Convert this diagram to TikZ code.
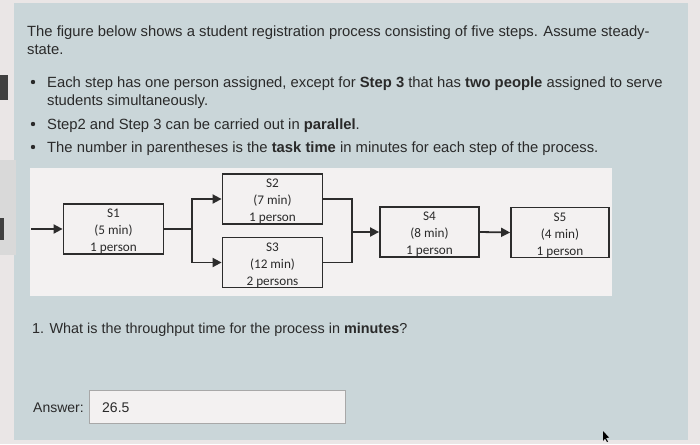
\documentclass[tikz,border=0pt]{standalone}
\usepackage{fontspec}
\setmainfont{Liberation Sans}
\newfontfamily\dg{Carlito}
\usetikzlibrary{arrows.meta}
\definecolor{frame}{HTML}{EAE6E6}
\definecolor{panel}{HTML}{CAD6D9}
\definecolor{figbg}{HTML}{F3F1F1}
\definecolor{ink}{HTML}{2A2A2A}
\definecolor{lineink}{HTML}{2C2C2C}
\definecolor{boxedge}{HTML}{A8A8A8}
\newcommand\tpstrut{\rule{0pt}{14pt}}
\tikzset{
  stepbox/.style={draw=lineink, line width=1.8pt, minimum width=100pt, minimum height=50pt,
    inner sep=0pt, align=center, text=ink, font=\dg\fontsize{13.2}{17}\selectfont},
  link/.style={draw=lineink, line width=1.8pt},
  arr/.style={link, -{Triangle[length=9pt,width=9pt]}},
  txt/.style={anchor=base west, inner sep=0pt, text=ink, font=\fontsize{14.8}{18}\selectfont},
}
\begin{document}
\begin{tikzpicture}[x=1pt,y=-1pt]
\useasboundingbox (0,0) rectangle (700,444);
\fill[frame] (0,0) rectangle (700,444);
\fill[panel] (14,3) rectangle (688,440);
% side artefacts of the photo
\fill[gray!30] (0,160) rectangle (16,255);
\fill[black!75] (0,75) rectangle (8,100);
\fill[black!75] (0,218) rectangle (4,240);
% text
\node[txt] (l1) at (27,37) {The figure below shows a student registration process consisting of five steps. Assume steady-};
\node[txt] (l2) at (27,55) {state.};
\fill[ink] (33,82) circle (2.2pt);
\fill[ink] (33,124) circle (2.2pt);
\fill[ink] (33,147) circle (2.2pt);
\node[txt] (l3) at (47,87) {Each step has one person assigned, except for \textbf{Step 3} that has \textbf{two people} assigned to serve};
\node[txt] (l4) at (47,105) {students simultaneously.};
\node[txt] (l5) at (47,129) {Step2 and Step 3 can be carried out in \textbf{parallel}.};
\node[txt] (l6) at (47,152) {The number in parentheses is the \textbf{task time} in minutes for each step of the process.};
% figure
\fill[figbg] (30,168) rectangle (612,296);
\node[stepbox] (s1) at (113.5,229) {\tpstrut S1\\(5 min)\\1 person};
\node[stepbox] (s2) at (272.5,199) {\tpstrut S2\\(7 min)\\1 person};
\node[stepbox] (s3) at (272.5,262.5) {\tpstrut S3\\(12 min)\\2 persons};
\node[stepbox, minimum width=99pt] (s4) at (429.5,232) {\tpstrut S4\\(8 min)\\1 person};
\node[stepbox, minimum width=98pt] (s5) at (560,232.5) {\tpstrut S5\\(4 min)\\1 person};
\coordinate (in) at (31,229);
\coordinate (j1) at (192,229);
\coordinate (j2) at (352,232);
\draw[arr] (in) -- (s1.west);
\draw[link] (s1.east) -- (j1);
\draw[arr] (j1) |- (s2.west);
\draw[arr] (j1) |- (s3.west);
\draw[link] (s2.east) -| (j2);
\draw[link] (s3.east) -| (j2);
\draw[arr] (j2) -- (s4.west);
\draw[arr] (s4.east) -- (s5.west);
% question
\node[txt, font=\fontsize{14.4}{18}\selectfont] (q) at (32,333) {1. What is the throughput time for the process in \textbf{minutes}?};
\node[txt, font=\fontsize{14}{17}\selectfont] (ans) at (33,412) {Answer:};
\node[draw=boxedge, line width=0.8pt, fill=figbg, minimum width=256pt, minimum height=33pt, anchor=north west, inner sep=0pt] (box) at (89,390) {};
\node[txt, font=\fontsize{14}{17}\selectfont] (val) at (102,412) {26.5};
% cursor
\fill[black] (603,431) -- (603,441) -- (605,438.5) -- (607,442) -- (608,441.5) -- (606,438) -- (609,437.5) -- cycle;
\end{tikzpicture}
\end{document}
